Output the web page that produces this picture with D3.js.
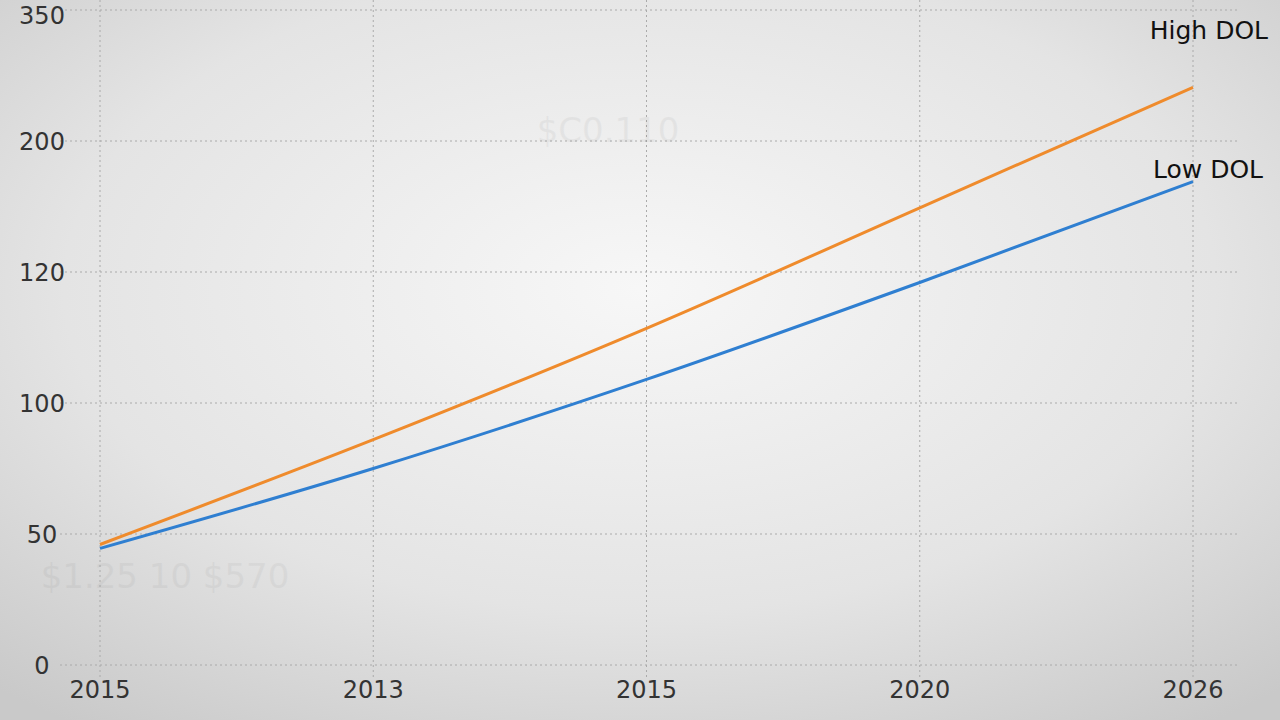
<!DOCTYPE html>
<html><head><meta charset="utf-8">
<script src="https://cdn.jsdelivr.net/npm/d3@7"></script>
<style>body{margin:0;overflow:hidden}svg{display:block}</style>
</head><body><svg width="1280" height="720"></svg>
<script>
// tick labels as shown on the picture (axis is evenly spaced by label index)
const yTickLabels = ['0', '50', '100', '120', '200', '350'];
const xTickLabels = ['2015', '2013', '2015', '2020', '2026'];
// series values in y-tick index units, one per x tick
const highDOL = [0.92, 1.72, 2.57, 3.49, 4.41];
const lowDOL = [0.89, 1.50, 2.18, 2.92, 3.69];

const svg = d3.select('svg');
const width = 1280, height = 720;

const defs = svg.append('defs');
const grad = defs.append('radialGradient').attr('id', 'bg')
  .attr('cx', '50%').attr('cy', '40%').attr('r', '75%');
grad.append('stop').attr('offset', '0%').attr('stop-color', '#f7f7f7');
grad.append('stop').attr('offset', '60%').attr('stop-color', '#e4e4e4');
grad.append('stop').attr('offset', '100%').attr('stop-color', '#c9c9c9');
svg.append('rect').attr('width', width).attr('height', height).attr('fill', 'url(#bg)');

const x = d3.scaleLinear().domain([0, 4]).range([100, 1193]);
const y = d3.scaleLinear().domain([0, 5]).range([665, 10]);

const g = svg.append('g');

// grid
g.selectAll('.hg').data(d3.range(6)).enter().append('line')
  .attr('x1', 60).attr('x2', 1240)
  .attr('y1', d => y(d)).attr('y2', d => y(d))
  .attr('stroke', '#aaa').attr('stroke-dasharray', '2,3').attr('stroke-width', 1);
g.selectAll('.vg').data(d3.range(5)).enter().append('line')
  .attr('y1', 0).attr('y2', 680)
  .attr('x1', d => x(d)).attr('x2', d => x(d))
  .attr('stroke', '#aaa').attr('stroke-dasharray', '2,3').attr('stroke-width', 1);

// tick labels
g.selectAll('.yl').data(yTickLabels).enter().append('text')
  .attr('x', 42).attr('y', (d, i) => Math.max(y(i) + 9, 24))
  .attr('text-anchor', 'middle')
  .attr('font-family', 'DejaVu Sans, sans-serif').attr('font-size', 24)
  .attr('fill', '#333').text(d => d);
g.selectAll('.xl').data(xTickLabels).enter().append('text')
  .attr('x', (d, i) => x(i)).attr('y', 698)
  .attr('text-anchor', 'middle')
  .attr('font-family', 'DejaVu Sans, sans-serif').attr('font-size', 24)
  .attr('fill', '#333').text(d => d);

// faint watermark text
g.append('text').attr('x', 608).attr('y', 142).attr('text-anchor', 'middle')
  .attr('font-family', 'DejaVu Sans, sans-serif').attr('font-size', 34)
  .attr('fill', '#000').attr('opacity', 0.04).text('$C0.110');
g.append('text').attr('x', 165).attr('y', 588).attr('text-anchor', 'middle')
  .attr('font-family', 'DejaVu Sans, sans-serif').attr('font-size', 34)
  .attr('fill', '#000').attr('opacity', 0.035).text('$1.25 10 $570');

const line = d3.line().x((d, i) => x(i)).y(d => y(d)).curve(d3.curveMonotoneX);

g.append('path').datum(lowDOL).attr('d', line)
  .attr('fill', 'none').attr('stroke', '#2f7fd1').attr('stroke-width', 3);
g.append('path').datum(highDOL).attr('d', line)
  .attr('fill', 'none').attr('stroke', '#ef8b2c').attr('stroke-width', 3);

g.append('text').attr('x', 1268).attr('y', 39).attr('text-anchor', 'end')
  .attr('font-family', 'DejaVu Sans, sans-serif').attr('font-size', 25)
  .attr('fill', '#111').text('High DOL');
g.append('text').attr('x', 1263).attr('y', 178).attr('text-anchor', 'end')
  .attr('font-family', 'DejaVu Sans, sans-serif').attr('font-size', 25)
  .attr('fill', '#111').text('Low DOL');
</script></body></html>
